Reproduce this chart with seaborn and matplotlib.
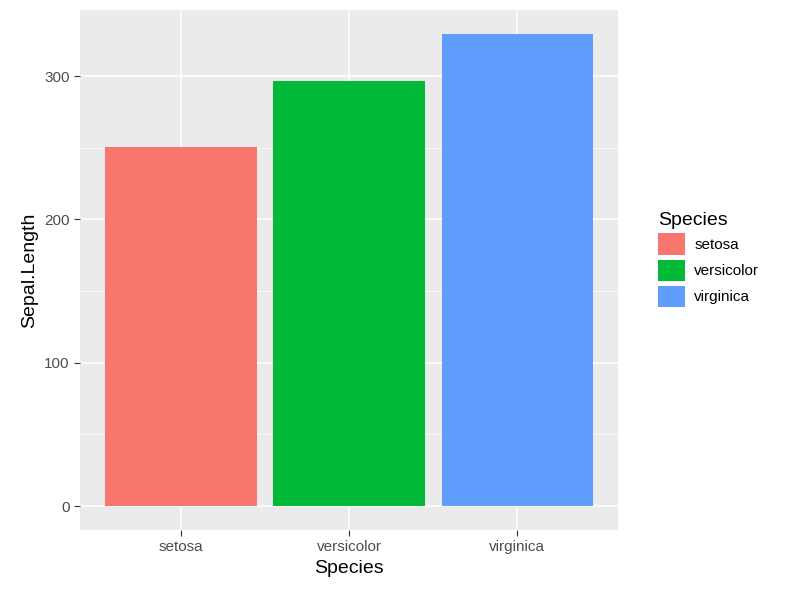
import pandas as pd
import matplotlib
import seaborn as sns
import matplotlib.pyplot as plt
from matplotlib.patches import Patch

matplotlib.use('Agg')

species = ["setosa", "versicolor", "virginica"]
sepal_length_sum = [250.3, 296.8, 329.4]
colors = ["#F8766D", "#00BA38", "#619CFF"]

df = pd.DataFrame({"Species": species, "Sepal.Length": sepal_length_sum})

plt.rcParams['font.family'] = ['Liberation Sans', 'DejaVu Sans']
fig = plt.figure(figsize=(8, 6), dpi=100)
ax = fig.add_axes([0.10, 0.117, 0.673, 0.866])
ax.set_facecolor("#EBEBEB")

sns.barplot(data=df, x="Species", y="Sepal.Length", hue="Species",
            palette=colors, width=0.9, saturation=1, legend=False, ax=ax, zorder=2)

ax.set_xlim(-0.6, 2.6)
ax.set_ylim(-16.5, 345.9)
ax.set_yticks([0, 100, 200, 300])
ax.set_yticks([50, 150, 250], minor=True)
ax.grid(True, which='major', color='white', linewidth=1.1, zorder=0)
ax.grid(True, which='minor', axis='y', color='white', linewidth=0.5, zorder=0)
ax.set_axisbelow(True)
for s in ax.spines.values():
    s.set_visible(False)
ax.tick_params(axis='both', which='major', length=4, color='#333333',
               labelsize=11, labelcolor='#4D4D4D')
ax.tick_params(axis='y', which='minor', length=0)
ax.set_xlabel("Species", fontsize=14)
ax.set_ylabel("Sepal.Length", fontsize=14)

handles = [Patch(facecolor=c, label=s) for s, c in zip(species, colors)]
leg = fig.legend(handles=handles, title="Species", loc='upper left',
                 bbox_to_anchor=(0.805, 0.67), frameon=False, fontsize=11,
                 title_fontsize=14, handlelength=1.8, handleheight=1.8,
                 handletextpad=0.6, labelspacing=0.3)
leg._legend_box.align = "left"

fig.savefig("out.png", dpi=100)
